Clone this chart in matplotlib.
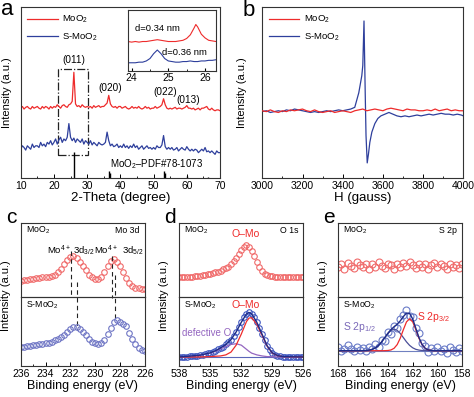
import numpy as np
import matplotlib.pyplot as plt
from matplotlib.patches import Rectangle

plt.rcParams['font.family'] = ['Liberation Sans', 'DejaVu Sans']
plt.rcParams['mathtext.fontset'] = 'custom'
plt.rcParams['mathtext.rm'] = 'Liberation Sans'
plt.rcParams['mathtext.it'] = 'Liberation Sans:italic'
plt.rcParams['mathtext.default'] = 'regular'
plt.rcParams['axes.linewidth'] = 0.8
plt.rcParams['axes.edgecolor'] = '#333333'

RED = '#ee2b2b'
BLUE = '#2e3f9c'
LRED = '#f06a6a'
LBLUE = '#6d74c4'
NAVY = '#1d2c88'
PURPLE = '#9466c0'

# ---- a: XRD ----
xrd_x = np.arange(10, 70.01, 0.5)
xrd_moo2 = [41, 42, 40.5, 41.5, 42, 41, 40.5, 42, 41, 41.5,
            42, 41, 40.5, 42, 41, 42, 41.5, 40.5, 42, 41,
            42, 41.5, 43, 42, 41, 42.5, 43, 42, 41.5, 43,
            43.5, 45, 62, 43.5, 42, 42.5, 41.5, 43, 42, 41.5,
            42, 41.5, 42, 41, 42.5, 41.5, 42, 42.5, 41.5, 42,
            42, 43, 44, 48.5, 43.5, 42, 41.5, 42, 41, 42,
            42, 41, 41.5, 42, 41, 40.5, 41, 42, 41, 41.5,
            41, 42, 41, 40.5, 41, 42, 41, 41.5, 40.5, 41,
            41, 42, 41, 41.5, 42, 43, 46.5, 43, 41, 40.5,
            41, 40.5, 41, 41.5, 40.5, 41, 41, 40.5, 41, 41.5,
            42.5, 41, 41, 40.5, 41, 40, 40.5, 41, 40, 41,
            41, 41.5, 42, 40.5, 40, 41, 40, 39.5, 40, 40,
            39.5]
xrd_smoo2 = [17, 19, 18, 16.5, 19, 18, 17, 20, 18, 19,
             19, 18, 21, 19, 20, 18.5, 21, 20, 22, 19.5,
             21, 23, 20, 22.5, 24, 21, 23, 22, 24, 32,
             24, 22, 23.5, 21, 23, 22, 21, 23, 20, 22,
             21, 20, 22, 19.5, 21, 20, 19, 21, 20, 19.5,
             20, 21, 27, 22, 19, 20, 18.5, 19, 20, 18,
             19, 18, 20, 18, 19, 17.5, 19, 18, 20, 18,
             19, 17, 18, 19, 17, 18, 19, 17.5, 18, 17,
             18, 17, 19, 18, 18, 19.5, 25, 18.5, 17, 18,
             17, 18, 16.5, 17, 18, 16, 17, 18, 17, 16.5,
             18.5, 17, 16, 17, 16, 17, 16.5, 15, 16, 17,
             16, 18, 15.5, 16, 15, 16, 15, 14, 16, 15,
             15]
pdf_pos = [25.9, 36.5, 36.9, 53.0, 53.4, 60.2, 66.4]
pdf_h = [15.5, 4.5, 3, 4, 3, 1.2, 1]
peak_labels = ['(011)', '(020)', '(022)', '(013)']
peak_lx = [25.9, 36.8, 53.4, 60.3]
peak_ly = [69, 53, 50.5, 46]

inset_x = [23.9, 24.0, 24.1, 24.2, 24.3, 24.4, 24.5, 24.6, 24.7, 24.8, 24.9, 25.0,
           25.1, 25.2, 25.3, 25.4, 25.5, 25.6, 25.7, 25.75, 25.8, 25.9, 26.0, 26.1,
           26.2, 26.3]
inset_moo2 = [0.48, 0.47, 0.48, 0.47, 0.48, 0.48, 0.49, 0.5, 0.51, 0.5, 0.49, 0.48,
              0.48, 0.48, 0.49, 0.5, 0.53, 0.59, 0.7, 0.76, 0.72, 0.6, 0.54, 0.5,
              0.49, 0.48]
inset_smoo2 = [0.13, 0.13, 0.13, 0.14, 0.14, 0.16, 0.2, 0.28, 0.34, 0.28, 0.2, 0.16,
               0.15, 0.14, 0.14, 0.15, 0.15, 0.16, 0.15, 0.15, 0.15, 0.16, 0.16, 0.17,
               0.17, 0.18]

# ---- b: EPR ----
epr_x_moo2 = np.arange(3000, 4000.1, 20)
epr_moo2 = [39.5, 39, 40, 39, 38.5, 39.5, 39, 40, 39.5, 40, 40.5, 39.5, 39, 40, 39,
            38.5, 39, 39.5, 38.5, 39, 39.5, 39, 38.5, 39.5, 40, 40.5, 39.5, 40, 40.5,
            40, 39.5, 40.5, 41, 40.5, 40, 39.5, 40.5, 40, 40, 39.5, 39.5, 40, 39.5,
            40.5, 39.5, 40, 40.5, 39.5, 40, 39.5, 39.5]
epr_x_smoo2 = [3000, 3020, 3040, 3060, 3080, 3100, 3120, 3140, 3160, 3180, 3200, 3220,
               3240, 3260, 3280, 3300, 3320, 3340, 3360, 3380, 3400, 3420, 3440, 3460,
               3480, 3495, 3500, 3506, 3512, 3516, 3522, 3528, 3535, 3545, 3560, 3575,
               3590, 3610, 3630, 3650, 3670, 3690, 3710, 3730, 3750, 3770, 3790, 3810,
               3830, 3850, 3870, 3890, 3910, 3930, 3950, 3970, 3990, 4000]
epr_smoo2 = [39, 39.5, 38.5, 39, 39.5, 39, 40, 39.5, 40.5, 40, 39.5, 39, 38.5, 39,
             38.5, 39, 39.5, 39, 39.5, 40, 39.5, 40, 40.5, 41.5, 50, 60, 66, 92, 50,
             25, 9, 14, 21, 27, 32, 35, 36.5, 37.5, 38.5, 37.5, 36.5, 36, 36.5, 36,
             36.5, 37, 36.5, 37, 37.5, 37, 37.5, 38, 37.5, 37.5, 37, 37.5, 37, 36.5]

# ---- c: Mo 3d ----
mo_x = np.arange(236, 225.99, -0.25)
mo_moo2 = [21, 22, 23, 23.5, 24, 25, 25.5, 26, 26, 26.5, 28, 30, 33, 38, 44, 50, 54,
           55, 52, 47, 42, 36, 30, 26, 24, 23.5, 27, 34, 42, 49, 51, 47, 42, 34, 25,
           18, 14, 12, 11, 10.5, 10]
mo_smoo2 = [27, 28, 28.5, 29, 30, 30.5, 31, 32, 32.5, 33.5, 35, 37, 39, 42, 45, 49, 53,
            55.5, 56, 53, 49, 44, 39, 35, 33, 32, 33, 38, 46, 55, 63, 66, 63, 60, 57,
            48, 39, 31, 26, 23, 21]

# ---- d: O 1s ----
o_x = np.arange(538, 525.99, -0.25)
o_moo2 = [26, 26, 26.5, 26.5, 27, 27, 27.5, 28, 28.5, 29, 29.5, 30.5, 31, 32, 33, 34,
          35.5, 37, 39, 41, 44, 48, 53, 58, 63, 68, 70, 68, 62, 55, 47, 40, 35, 31, 29,
          28, 27.5, 27, 27, 27, 27, 27, 27, 27, 27, 27, 27, 27, 27]
o_smoo2 = [13, 13.5, 13, 13.5, 14, 14, 14.5, 15, 15.5, 16, 17, 18, 19, 20.5, 22, 24,
           26, 28, 31, 34, 38, 43, 49, 56, 63, 70, 75, 77, 75, 70, 63, 55, 46, 37, 29,
           23, 19, 16.5, 15, 14, 13.5, 13.5, 13, 13.5, 13, 13, 13.5, 13, 13]
o_fit_x = [538, 536, 535, 534.5, 534, 533.5, 533, 532.5, 532, 531.5, 531.25, 531,
           530.5, 530, 529.5, 529, 528.5, 528, 526]
o_fit_mo = [13, 13, 13.5, 14, 14.5, 16, 20, 30, 46, 64, 69, 69.5, 60, 44.5, 28.5,
            18.5, 15, 13.5, 13]
o_fit_def = [13, 15.5, 18.5, 21, 24.5, 28, 31, 32, 30, 24, 21, 18.5, 16, 14.5, 13.5,
             13.5, 13, 13, 13]
o_fit_env = [13, 15.5, 19, 22, 26, 31, 38, 49, 63, 75, 77, 75, 63, 46, 29, 19, 15,
             13.5, 13]

# ---- e: S 2p ----
s_x = np.arange(168, 157.99, -0.25)
s_moo2 = [40, 44, 38, 46, 42, 39, 47, 43, 40, 45, 38, 44, 41, 47, 42, 39, 45, 43, 38,
          44, 40, 46, 42, 47, 43, 39, 45, 41, 44, 38, 43, 46, 40, 44, 42, 38, 45, 41,
          43, 39, 44]
s_smoo2 = [27, 22, 25, 30, 24, 21, 28, 23, 26, 21, 27, 24, 31, 28, 38, 36, 49, 46, 58,
           55, 68, 74, 80, 72, 70, 55, 47, 33, 29, 20, 26, 22, 28, 21, 25, 19, 27, 23,
           20, 26, 22]
s_fit_x = [168, 166, 165.75, 165.5, 165.25, 165, 164.75, 164.5, 164.25, 164, 163.75,
           163.5, 163.25, 163, 162.75, 162.5, 162.25, 162, 161.75, 161.5, 161.25, 161,
           160.75, 160.5, 160.25, 160, 158]
s_fit_32 = [22, 22, 22, 22, 22, 22, 22, 22, 22.1, 22.3, 23.1, 25.5, 30.8, 40.2, 52.4,
            63.5, 68, 63.5, 52.4, 40.2, 30.8, 25.5, 23.1, 22.3, 22.1, 22, 22]
s_fit_12 = [22, 22.1, 22.3, 22.9, 24.0, 26.2, 29.7, 34.7, 40.8, 46.8, 51.3, 53, 51.3,
            46.8, 40.8, 34.7, 29.7, 26.2, 24.0, 22.9, 22.3, 22.1, 22, 22, 22, 22, 22]
s_fit_env = [22, 22.1, 22.3, 22.9, 24.0, 26.2, 29.7, 34.7, 40.9, 47.1, 52.4, 56.5,
             60.1, 65.0, 71.2, 76.2, 75.7, 67.7, 54.4, 41.1, 31.1, 25.6, 23.1, 22.3,
             22.1, 22, 22]

fig = plt.figure(figsize=(4.74, 3.97), dpi=100)


def style_bottom(ax, major, minor, fs=7.5):
    ax.set_xticks(major)
    ax.set_xticks(minor, minor=True)
    ax.set_yticks([])
    ax.tick_params(axis='x', which='major', direction='in', length=3, width=0.7,
                   labelsize=fs, pad=2)
    ax.tick_params(axis='x', which='minor', direction='in', length=1.5, width=0.6)


# panel a
ax_a = fig.add_axes([0.0437, 0.5509, 0.4205, 0.4307])
ax_a.plot(xrd_x, xrd_moo2, color=RED, lw=0.9, label='MoO$_2$')
ax_a.plot(xrd_x, xrd_smoo2, color=BLUE, lw=0.9, label='S-MoO$_2$')
ax_a.vlines(pdf_pos, 0, pdf_h, color='k', lw=1.0)
ax_a.add_patch(Rectangle((21.1, 13.5), 9.3, 50.5, fill=False, ls='-.', lw=0.9,
                         ec='#222222'))
for lab, lx, ly in zip(peak_labels, peak_lx, peak_ly):
    ax_a.text(lx, ly, lab, ha='center', va='center', fontsize=7.2)
ax_a.text(36.8, 8.4, 'MoO$_2$–PDF#78-1073', ha='left', va='center', fontsize=7)
ax_a.set_xlim(10, 70)
ax_a.set_ylim(0, 100)
style_bottom(ax_a, range(10, 71, 10), range(15, 70, 10))
ax_a.set_xlabel('2-Theta (degree)', fontsize=9.5, labelpad=1)
ax_a.legend(loc='upper left', frameon=False, fontsize=6.8, handlelength=3.2,
            borderaxespad=0.3, labelspacing=0.6, handletextpad=0.5)
fig.text(0.002, 0.962, 'a', fontsize=16, va='baseline')

ins = fig.add_axes([0.270, 0.822, 0.1857, 0.153])
ins.plot(inset_x, inset_moo2, color=RED, lw=0.8)
ins.plot(inset_x, inset_smoo2, color=BLUE, lw=0.8)
ins.set_xlim(23.9, 26.3)
ins.set_ylim(0, 1)
ins.set_yticks([])
ins.set_xticks([24, 25, 26])
ins.set_xticks([24.5, 25.5], minor=True)
ins.tick_params(axis='x', which='major', direction='in', length=2.5, labelsize=7.5, pad=2)
ins.tick_params(axis='x', which='minor', direction='in', length=1.5)
ins.text(24.1, 0.7, 'd=0.34 nm', fontsize=6.8, va='center')
ins.text(24.84, 0.3, 'd=0.36 nm', fontsize=6.8, va='center')

# panel b
ax_b = fig.add_axes([0.5534, 0.5509, 0.424, 0.4307])
ax_b.plot(epr_x_moo2, epr_moo2, color=RED, lw=0.9, label='MoO$_2$', zorder=3)
ax_b.plot(epr_x_smoo2, epr_smoo2, color=BLUE, lw=0.9, label='S-MoO$_2$')
ax_b.set_xlim(3000, 4000)
ax_b.set_ylim(0, 100)
style_bottom(ax_b, range(3000, 4001, 200), range(3100, 4000, 200))
ax_b.set_xlabel('H (gauss)', fontsize=9.5, labelpad=1)
ax_b.legend(loc='upper left', frameon=False, fontsize=6.8, handlelength=3.2,
            borderaxespad=0.3, labelspacing=0.6, handletextpad=0.5)
fig.text(0.511, 0.960, 'b', fontsize=16, va='baseline')

for xpos in [0.015, 0.5105]:
    fig.text(xpos, 0.766, 'Intensity (a.u.)', rotation=90, ha='center', va='center',
             fontsize=8)


def xps_pair(left, xlim, major, minor, letter, lx, tag):
    top = fig.add_axes([left, 0.2531, 0.2616, 0.1844])
    bot = fig.add_axes([left, 0.0781, 0.2616, 0.175])
    bot.set_facecolor('none')
    for ax in (top, bot):
        ax.set_xlim(*xlim)
        ax.set_ylim(0, 100)
    top.set_xticks([])
    top.set_yticks([])
    style_bottom(bot, major, minor)
    bot.set_xlabel('Binding energy (eV)', fontsize=9, labelpad=1)
    top.text(0.04, 0.9, 'MoO$_2$', transform=top.transAxes, fontsize=6.3, va='center')
    top.text(0.96, 0.9, tag, transform=top.transAxes, fontsize=6.3, va='center',
             ha='right')
    bot.text(0.04, 0.88, 'S-MoO$_2$', transform=bot.transAxes, fontsize=6.3,
             va='center')
    fig.text(lx, 0.438, letter, fontsize=15, va='baseline')
    fig.text(left - 0.032, 0.256, 'Intensity (a.u.)', rotation=90, ha='center',
             va='center', fontsize=8)
    return top, bot


# panel c
c_top, c_bot = xps_pair(0.0437, (236, 226), range(236, 225, -2), range(235, 226, -2),
                        'c', 0.012, 'Mo 3d')
c_top.plot(mo_x, mo_moo2, 'o', mfc='none', mec=LRED, ms=4, mew=0.8)
c_bot.plot(mo_x, mo_smoo2, 'o', mfc='none', mec=LBLUE, ms=4, mew=0.8)
dash = dict(color='#222222', lw=0.8, ls=(0, (4, 3)), clip_on=False, zorder=5,
            transform=c_top.get_xaxis_transform())
c_top.plot([231.95, 231.95], [0.62, 0.02], **dash)
c_top.plot([231.5, 231.5], [0.2, -0.46], **dash)
c_top.plot([228.64, 228.64], [0.55, -0.02], **dash)
c_top.plot([228.37, 228.37], [0.3, -0.32], **dash)
c_top.text(232.95, 63, 'Mo$^{4+}$', ha='center', va='center', fontsize=6.8)
c_top.text(231.75, 63, '3d$_{3/2}$', ha='left', va='center', fontsize=6.8)
c_top.text(229.15, 63, 'Mo$^{4+}$', ha='center', va='center', fontsize=6.8)
c_top.text(227.0, 63, '3d$_{5/2}$', ha='center', va='center', fontsize=6.8)

# panel d
d_top, d_bot = xps_pair(0.3783, (538, 526), range(538, 525, -3), range(537, 526, -1),
                        'd', 0.347, 'O 1s')
d_top.plot(o_x, o_moo2, 'o', mfc='none', mec=LRED, ms=4, mew=0.8)
d_top.text(531.6, 85, 'O–Mo', color=RED, ha='center', va='center', fontsize=7.5)
d_bot.plot(o_x, o_smoo2, 'o', mfc='none', mec='#3f56c0', ms=4, mew=0.8)
d_bot.plot([538, 526], [13, 13], color='#5a66b8', lw=0.8)
d_bot.plot(o_fit_x, o_fit_def, color=PURPLE, lw=0.9)
d_bot.plot(o_fit_x, o_fit_mo, color=RED, lw=0.9)
d_bot.plot(o_fit_x, o_fit_env, color=NAVY, lw=1.0)
d_bot.text(531.6, 88, 'O–Mo', color=RED, ha='center', va='center', fontsize=7.5)
d_bot.text(537.7, 48, 'defective O', color=PURPLE, ha='left', va='center', fontsize=7)

# panel e
e_top, e_bot = xps_pair(0.7137, (168, 158), range(168, 157, -2), range(167, 158, -2),
                        'e', 0.681, 'S 2p')
e_top.plot(s_x, s_moo2, 'o', mfc='none', mec=LRED, ms=5, mew=0.8)
e_bot.plot(s_x, s_smoo2, 'o', mfc='none', mec='#6a7cc8', ms=5, mew=0.8)
e_bot.plot([168, 158], [22, 22], color='#7080c0', lw=0.8)
e_bot.plot(s_fit_x, s_fit_12, color='#4b4f98', lw=0.9)
e_bot.plot(s_fit_x, s_fit_32, color=RED, lw=0.9)
e_bot.plot(s_fit_x, s_fit_env, color=NAVY, lw=1.0)
e_bot.text(160.3, 70, 'S 2p$_{3/2}$', color=RED, ha='center', va='center', fontsize=7.5)
e_bot.text(166.3, 56, 'S 2p$_{1/2}$', color='#7a68b8', ha='center', va='center',
           fontsize=7.5)

fig.savefig('out.png', dpi=100)
